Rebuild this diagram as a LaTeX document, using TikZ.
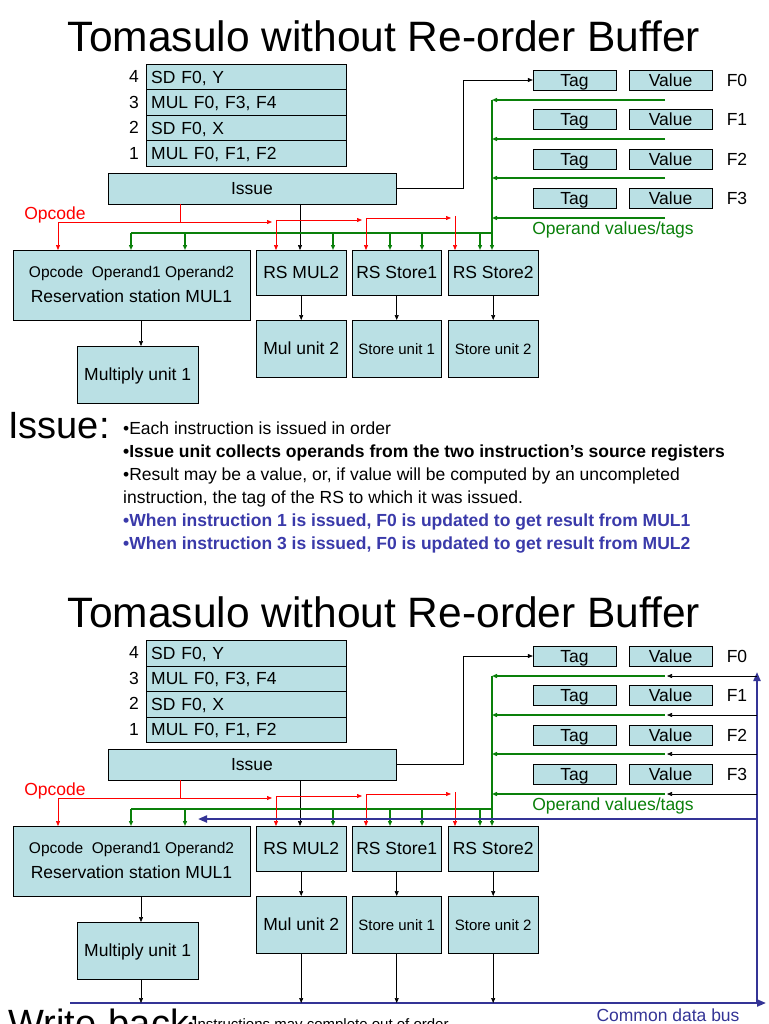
\documentclass[tikz,border=0pt]{standalone}
\usepackage{fontspec}
\setmainfont{Liberation Sans}
\usetikzlibrary{arrows.meta}
\definecolor{boxc}{RGB}{186,224,228}
\definecolor{grn}{RGB}{10,128,10}
\definecolor{blu}{RGB}{52,52,150}
\definecolor{txtblu}{RGB}{58,58,170}
\tikzset{
  box/.style={draw=black, fill=boxc, inner sep=0pt, font=\fontsize{17.5}{19}\selectfont, text height=12.5pt, text depth=0pt},
  ibox/.style={box, anchor=north west, minimum height=25.5pt, text width=190pt, inner xsep=5pt, align=left},
  reg/.style={box, minimum width=83pt, minimum height=19.5pt},
  tip/.style={-{Triangle[length=5pt,width=4pt]}},
  bigtip/.style={-{Triangle[length=9pt,width=7pt]}},
  thin/.style={draw=black, line width=0.6pt},
  gline/.style={draw=grn, line width=1.6pt},
  rline/.style={draw=red, line width=0.7pt},
  bline/.style={draw=blu, line width=2pt},
  lbl/.style={font=\fontsize{17.5}{19}\selectfont},
  bul/.style={anchor=base west, font=\fontsize{17.5}{19}\selectfont, inner sep=0pt},
}
\newcommand\Panel[2]{%
\begin{scope}[yshift=-#2pt]
\node[font=\fontsize{42.5}{44}\selectfont] (title#1) at (384,36) {Tomasulo without Re-order Buffer};
\node[ibox] (iA#1) at (146,64) {SD F0, Y};
\node[ibox] (iB#1) at (146,89.5) {MUL F0, F3, F4};
\node[ibox] (iC#1) at (146,115) {SD F0, X};
\node[ibox] (iD#1) at (146,140.5) {MUL F0, F1, F2};
\node[lbl] (nA#1) at (134,76.5) {4};
\node[lbl] (nB#1) at (134,102) {3};
\node[lbl] (nC#1) at (134,127.5) {2};
\node[lbl] (nD#1) at (134,153) {1};
\node[box, minimum width=288pt, minimum height=31pt] (issue#1) at (252,188.5) {Issue};
\node[reg] (t0#1) at (574.5,80) {Tag};
\node[reg] (v0#1) at (670.5,80) {Value};
\node[reg] (t1#1) at (574.5,119) {Tag};
\node[reg] (v1#1) at (670.5,119) {Value};
\node[reg] (t2#1) at (574.5,159) {Tag};
\node[reg] (v2#1) at (670.5,159) {Value};
\node[reg] (t3#1) at (574.5,198) {Tag};
\node[reg] (v3#1) at (670.5,198) {Value};
\node[lbl] (f0#1) at (737,80) {F0};
\node[lbl] (f1#1) at (737,119) {F1};
\node[lbl] (f2#1) at (737,159) {F2};
\node[lbl] (f3#1) at (737,198) {F3};
\node[box, anchor=north west, minimum width=237pt, minimum height=70pt] (rs1#1) at (13,250) {};
\node[font=\fontsize{15.5}{17}\selectfont] (rs1a#1) at (131.5,273) {Opcode\ \ Operand1 Operand2};
\node[lbl] (rs1b#1) at (131.5,296) {Reservation station MUL1};
\node[box, anchor=north west, minimum width=90pt, minimum height=45pt] (rsm#1) at (256,250) {RS MUL2};
\node[box, anchor=north west, minimum width=89pt, minimum height=45pt] (rss1#1) at (352,250) {RS Store1};
\node[box, anchor=north west, minimum width=90pt, minimum height=45pt] (rss2#1) at (448,250) {RS Store2};
\node[box, anchor=north west, minimum width=90pt, minimum height=57pt] (mu2#1) at (256,320) {Mul unit 2};
\node[box, anchor=north west, minimum width=89pt, minimum height=57pt, font=\fontsize{15}{17}\selectfont, text height=11pt] (su1#1) at (352,320) {Store unit 1};
\node[box, anchor=north west, minimum width=90pt, minimum height=57pt, font=\fontsize{15}{17}\selectfont, text height=11pt] (su2#1) at (448,320) {Store unit 2};
\node[box, anchor=north west, minimum width=121pt, minimum height=57pt] (mu1#1) at (77,346) {Multiply unit 1};
\node[lbl, text=red] (opc#1) at (55,215) {Opcode};
\node[lbl, text=grn] (ovt#1) at (613,230) {Operand values/tags};
\draw[thin,tip] (issue#1.east) -- (463,188.5) -- (463,80) -- (t0#1.west);
\draw[thin,tip] (300,204) -- (300,250);
\foreach \yy in {100,139,178,218} \draw[gline,tip] (665,\yy) -- (492,\yy);
\draw[gline,tip] (492,100) -- (492,250);
\draw[gline] (492,233) -- (131,233);
\foreach \xx in {131,185,333,390,422,480} \draw[gline,tip] (\xx,233) -- (\xx,250);
\draw[rline] (180,204) -- (180,222) -- (58,222);
\draw[rline,tip] (58,222) -- (58,250);
\draw[rline,tip] (180,222) -- (272,222);
\draw[rline,tip] (276,220) -- (276,250);
\draw[rline,tip] (276,220) -- (362,220);
\draw[rline,tip] (366,218) -- (366,250);
\draw[rline,tip] (366,218) -- (451,218);
\draw[rline,tip] (455,216) -- (455,250);
\draw[thin,tip] (141,320) -- (mu1#1.north -| 141,0);
\draw[thin,tip] (rsm#1.south) -- (mu2#1.north);
\draw[thin,tip] (rss1#1.south) -- (su1#1.north);
\draw[thin,tip] (rss2#1.south) -- (su2#1.north);
\end{scope}}
\begin{document}
\begin{tikzpicture}[x=1pt,y=-1pt]
\useasboundingbox (0,0) rectangle (768,1024);
\clip (0,0) rectangle (768,1024);
\fill[white] (0,0) rectangle (768,1024);
\Panel{a}{0}
\Panel{b}{576}
\node[anchor=base west, font=\fontsize{38}{40}\selectfont, inner sep=0pt] (iss) at (8,438) {Issue:};
\node[bul] (b1) at (123,434) {•Each instruction is issued in order};
\node[bul, font=\fontsize{17.5}{19}\selectfont\bfseries] (b2) at (123,457) {•Issue unit collects operands from the two instruction’s source registers};
\node[bul] (b3) at (123,480) {•Result may be a value, or, if value will be computed by an uncompleted};
\node[bul] (b4) at (123,503) {instruction, the tag of the RS to which it was issued.};
\node[bul, text=txtblu, font=\fontsize{17.5}{19}\selectfont\bfseries] (b5) at (123,526) {•When instruction 1 is issued, F0 is updated to get result from MUL1};
\node[bul, text=txtblu, font=\fontsize{17.5}{19}\selectfont\bfseries] (b6) at (123,549) {•When instruction 3 is issued, F0 is updated to get result from MUL2};
\coordinate (cdbL) at (70,1003);
\coordinate (cdbR) at (766,1003);
\coordinate (cdbC) at (757,1003);
\coordinate (cdbT) at (757,672);
\draw[bline,bigtip] (cdbL) -- (cdbR);
\draw[bline,bigtip] (cdbC) -- (cdbT);
\draw[bline,bigtip] (757,819) -- (198,819);
\foreach \yy in {676,715,754,794} \draw[thin,tip] (757,\yy) -- (667,\yy);
\draw[thin,tip] (141,979) -- (141,1003);
\draw[thin,tip] (mu2b.south) -- (mu2b.south |- cdbL);
\draw[thin,tip] (su1b.south) -- (su1b.south |- cdbL);
\draw[thin,tip] (su2b.south) -- (su2b.south |- cdbL);
\node[lbl, text=blu, anchor=base] (cdb) at (668,1021) {Common data bus};
\node[anchor=base west, font=\fontsize{38}{40}\selectfont, inner sep=0pt] (wb) at (8,1036) {Write-back:};
\node[bul, font=\fontsize{15}{17}\selectfont] (wb1) at (188,1029) {•Instructions may complete out of order};
\end{tikzpicture}
\end{document}
